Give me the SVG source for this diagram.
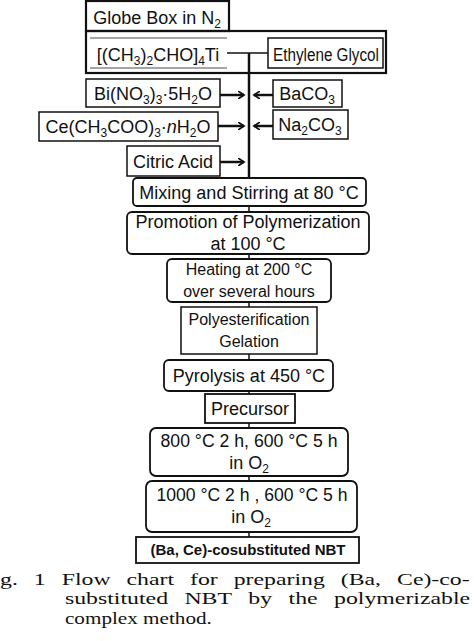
<svg xmlns="http://www.w3.org/2000/svg" width="474" height="641" viewBox="0 0 474 641">
<defs>
<style>
.t{font-family:"Liberation Sans",Arial,sans-serif;font-size:18px;fill:#111;text-anchor:middle}
.s{font-size:16px}
.b{font-size:15px;font-weight:bold}
.box{fill:#fff;stroke:#111;stroke-width:1.5}
.rb{fill:#fff;stroke:#111;stroke-width:1.8}
.frame{fill:none;stroke:#111;stroke-width:2.2}
.cap{font-family:"Liberation Serif","Times New Roman",serif;font-size:17px;fill:#111}
.ln{stroke:#111;stroke-width:1.5;fill:none}
.ar{stroke:#111;stroke-width:2.5;fill:none;marker-end:url(#ah)}
</style>
<marker id="ah" markerWidth="8" markerHeight="8" refX="6" refY="4" orient="auto" markerUnits="userSpaceOnUse">
<path d="M0,0 L6,4 L0,8" fill="none" stroke="#111" stroke-width="1.8"/>
</marker>
</defs>
<rect width="474" height="641" fill="#fff"/>
<g id="connectors">
<path class="ln" d="M227,53 H268"/>
<path d="M249,53 V178" stroke="#111" stroke-width="2.5"/>
<path class="ar" d="M220,95 H244"/>
<path class="ar" d="M218,126 H244"/>
<path class="ar" d="M220,162 H244"/>
<path class="ar" d="M273,95 H254"/>
<path class="ar" d="M273,126 H254"/>
<path class="ln" d="M249,206 V212 M249,254 V259 M249,302 V307 M249,354 V360 M249,391 V394 M249,423 V428 M249,476 V481 M249,532 V537"/>
</g>
<g id="globe-box">
<rect class="frame" x="86" y="31" width="300" height="42"/>
<rect class="frame" x="86" y="1" width="143" height="30"/>
<text class="t" x="157" y="24">Globe Box in N<tspan font-size="12" dy="4">2</tspan></text>
</g>
<g id="ti">
<path d="M90,38 H227 M90,68 H227" stroke="#888" stroke-width="1.3"/>
<text class="t" x="158" y="61">[(CH<tspan font-size="12" dy="4">3</tspan><tspan dy="-4">)</tspan><tspan font-size="12" dy="4">2</tspan><tspan dy="-4">CHO]</tspan><tspan font-size="12" dy="4">4</tspan><tspan dy="-4">Ti</tspan></text>
</g>
<g id="glycol">
<rect class="box" x="268" y="38" width="115" height="30"/>
<text class="t" x="326" y="61" style="font-size:18px" textLength="106" lengthAdjust="spacingAndGlyphs">Ethylene Glycol</text>
</g>
<g id="bi">
<rect class="box" x="86" y="79" width="134" height="28"/>
<text class="t" x="153" y="100">Bi(NO<tspan font-size="12" dy="4">3</tspan><tspan dy="-4">)</tspan><tspan font-size="12" dy="4">3</tspan><tspan dy="-4">·5H</tspan><tspan font-size="12" dy="4">2</tspan><tspan dy="-4">O</tspan></text>
</g>
<g id="baco3">
<rect class="box" x="273" y="80" width="69" height="27"/>
<text class="t" x="307" y="100">BaCO<tspan font-size="12" dy="4">3</tspan></text>
</g>
<g id="ce">
<rect class="box" x="39" y="112" width="179" height="29"/>
<text class="t" x="128" y="133">Ce(CH<tspan font-size="12" dy="4">3</tspan><tspan dy="-4">COO)</tspan><tspan font-size="12" dy="4">3</tspan><tspan dy="-4">·</tspan><tspan font-style="italic">n</tspan>H<tspan font-size="12" dy="4">2</tspan><tspan dy="-4">O</tspan></text>
</g>
<g id="na2co3">
<rect class="box" x="273" y="110" width="75" height="29"/>
<text class="t" x="310" y="131">Na<tspan font-size="12" dy="4">2</tspan><tspan dy="-4">CO</tspan><tspan font-size="12" dy="4">3</tspan></text>
</g>
<g id="citric">
<rect class="box" x="127" y="146" width="93" height="30"/>
<text class="t" x="173" y="168">Citric Acid</text>
</g>
<g id="mixing">
<rect class="rb" x="133" y="178" width="233" height="28" rx="4"/>
<text class="t" x="249" y="199">Mixing and Stirring at 80 °C</text>
</g>
<g id="promotion">
<rect class="rb" x="127" y="212" width="242" height="42" rx="5"/>
<text class="t" x="248" y="228">Promotion of Polymerization</text>
<text class="t" x="248" y="250">at 100 °C</text>
</g>
<g id="heating">
<rect class="rb" x="167" y="259" width="164" height="43" rx="5"/>
<text class="t s" x="249" y="275">Heating at 200 °C</text>
<text class="t s" x="249" y="297">over several hours</text>
</g>
<g id="polyester">
<rect class="box" x="181" y="307" width="136" height="47"/>
<text class="t s" x="249" y="325">Polyesterification</text>
<text class="t s" x="249" y="347">Gelation</text>
</g>
<g id="pyrolysis">
<rect class="rb" x="164" y="360" width="169" height="31" rx="5"/>
<text class="t" x="249" y="382">Pyrolysis at 450 °C</text>
</g>
<g id="precursor">
<rect class="rb" x="205" y="394" width="90" height="29"/>
<text class="t" x="250" y="415">Precursor</text>
</g>
<g id="s800">
<rect class="rb" x="150" y="428" width="198" height="48" rx="6"/>
<text class="t" x="249" y="447" textLength="177" lengthAdjust="spacingAndGlyphs">800 °C 2 h, 600 °C 5 h</text>
<text class="t" x="249" y="469">in O<tspan font-size="12" dy="4">2</tspan></text>
</g>
<g id="s1000">
<rect class="rb" x="146" y="481" width="211" height="51" rx="6"/>
<text class="t" x="252" y="501" textLength="191" lengthAdjust="spacingAndGlyphs">1000 °C 2 h , 600 °C 5 h</text>
<text class="t" x="251" y="523">in O<tspan font-size="12" dy="4">2</tspan></text>
</g>
<g id="nbt">
<rect class="rb" x="136" y="537" width="223" height="26"/>
<text class="t b" x="248" y="555">(Ba, Ce)-cosubstituted NBT</text>
</g>
<g id="caption" class="cap">
<text transform="scale(1.4,1)" y="585"><tspan x="0">g.</tspan><tspan x="24.1">1</tspan><tspan x="44.1">Flow</tspan><tspan x="90.4">chart</tspan><tspan x="135.7">for</tspan><tspan x="166.9">preparing</tspan><tspan x="243.4">(Ba,</tspan><tspan x="283.6">Ce)-co-</tspan></text>
<text transform="scale(1.4,1)" y="604.5"><tspan x="46.4">substituted</tspan><tspan x="131.7">NBT</tspan><tspan x="177.4">by</tspan><tspan x="206.1">the</tspan><tspan x="238.6">polymerizable</tspan></text>
<text transform="scale(1.245,1)" x="52.2" y="624">complex method.</text>
</g>
</svg>
